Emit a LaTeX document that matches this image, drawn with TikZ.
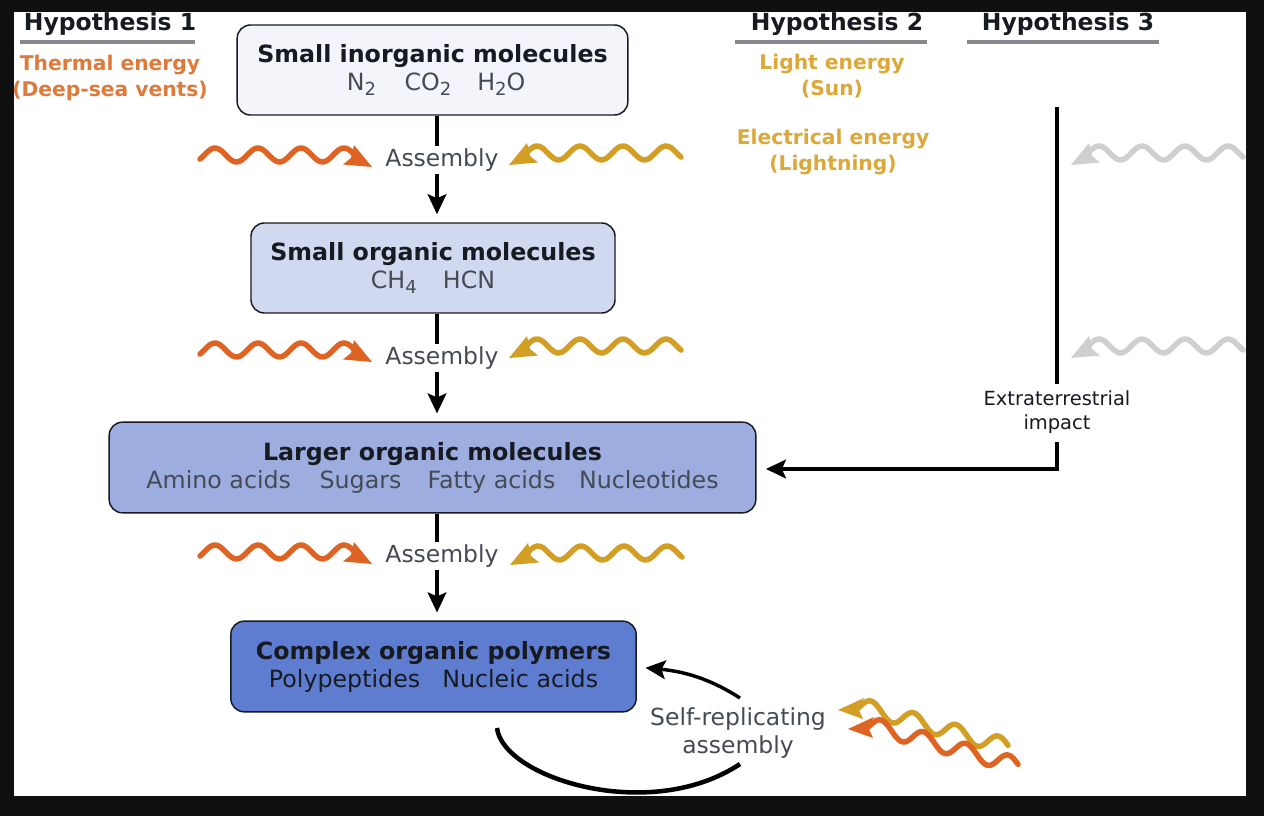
\documentclass[tikz,border=0pt]{standalone}
\usepackage{fontspec}
\setmainfont{DejaVu Sans}
\usetikzlibrary{arrows.meta}
\definecolor{frameblk}{HTML}{101010}
\definecolor{wo}{HTML}{DF6423}
\definecolor{wg}{HTML}{D29E24}
\definecolor{wgr}{HTML}{CFCFCF}
\definecolor{txo}{HTML}{E07A3A}
\definecolor{txg}{HTML}{DBA83A}
\definecolor{inkk}{HTML}{171A20}
\definecolor{soft}{HTML}{454A55}
\definecolor{rulegr}{HTML}{85888E}
\definecolor{fa}{HTML}{F3F5FB}
\definecolor{fb}{HTML}{D1D9F1}
\definecolor{fc}{HTML}{9DADE0}
\definecolor{fd}{HTML}{5F7DD0}
\tikzset{
  boxn/.style={draw=inkk,line width=1.1pt,rounded corners=10pt,align=center,inner sep=0pt,text=soft,font=\fontsize{17.8}{21}\selectfont},
  hyp/.style={font=\bfseries\fontsize{17.6}{18}\selectfont,text=inkk,inner sep=0pt},
  hrule/.style={rulegr,line width=3pt},
  enlab/.style={font=\bfseries\fontsize{15.2}{19}\selectfont,align=center,inner sep=0pt},
  lab/.style={font=\fontsize{17.6}{21}\selectfont,text=soft,align=center,inner sep=0pt},
  conn/.style={black,line width=2.6pt},
  arr/.style={conn,-{Stealth[length=15pt,width=14pt,inset=3pt]}},
  wavel/.style={line width=4.1pt,line cap=round,line join=round},
}
\newcommand{\bt}[1]{{\bfseries\color{inkk}#1}}
\newcommand{\sbs}[1]{\raisebox{-3.5pt}{\fontsize{13.5}{13.5}\selectfont #1}}
% colour, tip x, tip y, xscale (+1: points left, -1: points right)
\newcommand{\wavearrow}[4]{%
  \begin{scope}[shift={(#2,#3)},xscale=#4]
    \draw[wavel,#1] plot[smooth,domain=16:172,samples=70] (\x,{-12-7*cos(8.372*(\x-28))});
    \fill[#1] (0,0) -- (18,-22) -- (21,-9) -- (29,-2.5) -- cycle;
  \end{scope}}
% colour, shift x, shift y
\newcommand{\diagwave}[3]{%
  \begin{scope}[shift={(#2,#3)}]
    \draw[wavel,#1] plot[smooth,domain=856:1008,samples=70] (\x,{709+.275*(\x-871)-8*cos(8.47*(\x-871))});
    \fill[#1] (838,710) -- (864,698) -- (858,708) -- (863,719) -- cycle;
  \end{scope}}
\begin{document}
\begin{tikzpicture}[x=0.75pt,y=-0.75pt]
\useasboundingbox (0,0) rectangle (1264,816);
\fill[frameblk] (0,0) rectangle (1264,816);
\begin{scope}
\clip (14,12) rectangle (1246,796);
\fill[white] (14,12) rectangle (1246,796);

\coordinate (sx) at (437,0);
\node[hyp] (h1) at (110,24) {Hypothesis 1};
\node[hyp] (h2) at (837,24) {Hypothesis 2};
\node[hyp] (h3) at (1068,24) {Hypothesis 3};
\coordinate (r1a) at (20,42); \coordinate (r1b) at (195,42);
\coordinate (r2a) at (735,42); \coordinate (r2b) at (927,42);
\coordinate (r3a) at (967,42); \coordinate (r3b) at (1159,42);
\draw[hrule] (r1a) -- (r1b);
\draw[hrule] (r2a) -- (r2b);
\draw[hrule] (r3a) -- (r3b);

\node[enlab,text=txo] (e1) at (110,78) {Thermal energy\\(Deep-sea vents)};
\node[enlab,text=txg] (e2) at (832,76) {Light energy\\(Sun)};
\node[enlab,text=txg] (e3) at (833,152) {Electrical energy\\(Lightning)};

\node[boxn,fill=fa,minimum width=293pt,minimum height=67.5pt] (b1) at (432.5,70)
  {\bt{Small inorganic molecules}\\\hspace{.3em}N\sbs{2}\hspace{1.2em}CO\sbs{2}\hspace{1.1em}H\sbs{2}O};
\node[boxn,fill=fb,minimum width=273pt,minimum height=67.5pt] (b2) at (433,268)
  {\bt{Small organic molecules}\\CH\sbs{4}\hspace{1.1em}HCN};
\node[boxn,fill=fc,minimum width=485pt,minimum height=68pt] (b3) at (432.5,467.5)
  {\bt{Larger organic molecules}\\Amino acids\hspace{1.2em}Sugars\hspace{1.1em}Fatty acids\hspace{1.0em}Nucleotides};
\node[boxn,fill=fd,text=inkk,minimum width=304pt,minimum height=68pt] (b4) at (433.5,666.5)
  {\bt{Complex organic polymers}\\Polypeptides\hspace{.93em}Nucleic acids};

\node[lab,minimum height=20pt] (a1) at (442,160) {Assembly};
\node[lab,minimum height=20pt] (a2) at (442,358) {Assembly};
\node[lab,minimum height=20pt] (a3) at (442,556) {Assembly};

\draw[conn] (b1.south -| sx) -- (a1.north -| sx);
\draw[arr,shorten >=6pt] (a1.south -| sx) -- (b2.north -| sx);
\draw[conn] (b2.south -| sx) -- (a2.north -| sx);
\draw[arr,shorten >=6pt] (a2.south -| sx) -- (b3.north -| sx);
\draw[conn] (b3.south -| sx) -- (a3.north -| sx);
\draw[arr,shorten >=6pt] (a3.south -| sx) -- (b4.north -| sx);

\wavearrow{wo}{372}{167}{-1}
\wavearrow{wo}{372}{362}{-1}
\wavearrow{wo}{372}{564}{-1}
\wavearrow{wg}{509}{165}{1}
\wavearrow{wg}{509}{358}{1}
\wavearrow{wg}{510}{565}{1}
\wavearrow{wgr}{1071}{165}{1}
\wavearrow{wgr}{1071}{358}{1}

\coordinate (etop) at (1057,107);
\coordinate (ety) at (0,469);
\node[font=\fontsize{14.6}{18}\selectfont,text=inkk,align=center,inner sep=0pt,minimum height=47pt] (et) at (1057,412) {Extraterrestrial\\impact};
\draw[conn,shorten >=-3pt] (etop) -- (et.north);
\draw[arr,shorten >=7pt,shorten <=-1pt] (et.south) |- (b3.east |- ety);

\node[lab] (sr) at (738,733) {Self-replicating\\assembly};
\coordinate (lp) at (497,728);
\coordinate (lq) at (740,764);
\coordinate (up) at (740,698);
\coordinate (ty) at (0,667);
\draw[conn,line width=3.4pt] (lp) .. controls (503,778) and (650,824) .. (lq);
\draw[arr,shorten >=6.5pt] (up) .. controls (715,682) and (690,672) .. (b4.east |- ty);

\diagwave{wg}{0}{0}
\diagwave{wo}{10}{19}
\end{scope}
\end{tikzpicture}
\end{document}
